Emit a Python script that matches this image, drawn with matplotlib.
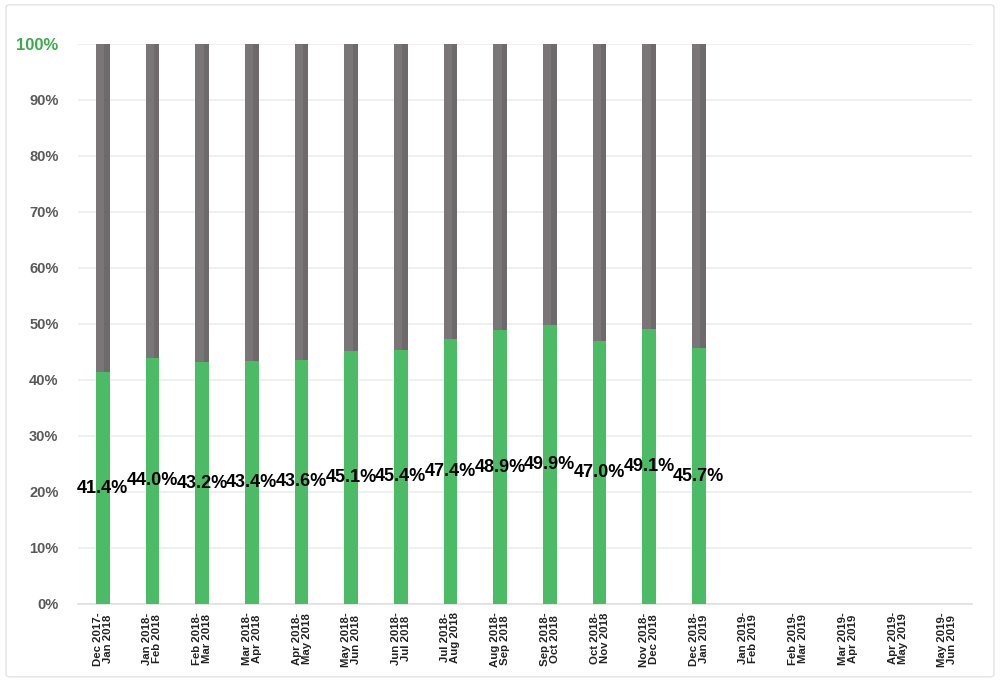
import matplotlib
matplotlib.use("Agg")
import matplotlib.pyplot as plt
from matplotlib.patches import FancyBboxPatch

plt.rcParams['font.family'] = ['Liberation Sans', 'DejaVu Sans']

categories = ["Dec 2017-\nJan 2018", "Jan 2018-\nFeb 2018", "Feb 2018-\nMar 2018",
              "Mar 2018-\nApr 2018", "Apr 2018-\nMay 2018", "May 2018-\nJun 2018",
              "Jun 2018-\nJul 2018", "Jul 2018-\nAug 2018", "Aug 2018-\nSep 2018",
              "Sep 2018-\nOct 2018", "Oct 2018-\nNov 2018", "Nov 2018-\nDec 2018",
              "Dec 2018-\nJan 2019", "Jan 2019-\nFeb 2019", "Feb 2019-\nMar 2019",
              "Mar 2019-\nApr 2019", "Apr 2019-\nMay 2019", "May 2019-\nJun 2019"]
green_values = [41.4, 44.0, 43.2, 43.4, 43.6, 45.1, 45.4, 47.4, 48.9, 49.9, 47.0, 49.1, 45.7]
ytick_values = [0, 10, 20, 30, 40, 50, 60, 70, 80, 90, 100]

GREEN = '#4cbb66'
GRAY = '#7a7677'

fig = plt.figure(figsize=(10, 6.83), dpi=100)
fig.patches.append(FancyBboxPatch((0.006, 0.009), 0.988, 0.984,
                                  boxstyle="round,pad=0,rounding_size=0.004",
                                  transform=fig.transFigure, fill=False,
                                  edgecolor='#e3e3e3', linewidth=1.0))
ax = fig.add_axes([0.078, 0.1157, 0.894, 0.82])

x = list(range(len(green_values)))
gray_values = [100 - v for v in green_values]
w = 0.28
ax.bar(x, green_values, width=w, color=GREEN, zorder=3)
ax.bar(x, gray_values, width=w, bottom=green_values, color=GRAY, zorder=3)
# subtle darker right side on gray bars (gradient look)
ax.bar([xi + w * 0.3 for xi in x], gray_values, width=w * 0.4, bottom=green_values,
       color='#6e6a6b', zorder=3)

for xi, v in zip(x, green_values):
    ax.text(xi, v / 2, f"{v:.1f}%", ha='center', va='center', fontsize=13,
            fontweight='bold', color='black', zorder=5)

ax.set_xlim(-0.5, len(categories) - 0.5)
ax.set_ylim(0, 100)
ax.set_xticks(range(len(categories)))
ax.set_xticklabels(categories, rotation=90, fontsize=8.2, fontweight='bold',
                   color='#222222', ha='center', va='top', linespacing=1.0)
ax.set_yticks(ytick_values)
ax.set_yticklabels([f"{t}%" for t in ytick_values], fontsize=10.5,
                   fontweight='bold', color='#595959')
lbl = ax.get_yticklabels()[-1]
lbl.set_color('#3aaa4a')
lbl.set_fontsize(12)
ax.tick_params(axis='both', length=0)
ax.tick_params(axis='y', pad=14)
ax.tick_params(axis='x', pad=6)

ax.grid(axis='y', color='#ececec', linewidth=1.2, zorder=0)
for s in ['top', 'right', 'left']:
    ax.spines[s].set_visible(False)
ax.spines['bottom'].set_color('#e0e0e0')
ax.spines['bottom'].set_linewidth(1.2)

fig.savefig('out.png', dpi=100, facecolor='white')
